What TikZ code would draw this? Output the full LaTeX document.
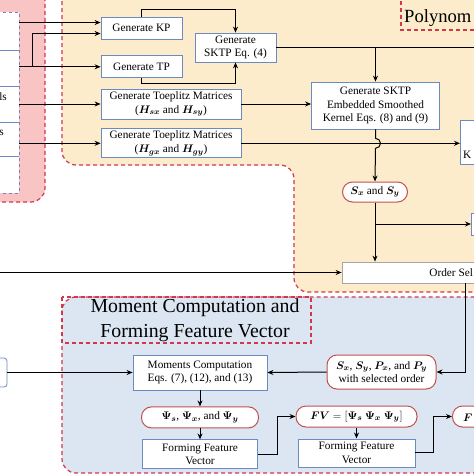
\documentclass[tikz,border=0pt]{standalone}
\usepackage{bm}
\usepackage{fontspec}
\setmainfont{Liberation Serif}
\usepackage{tikz}
\usetikzlibrary{positioning,arrows.meta,calc}
\definecolor{cBox}{HTML}{6A8AC0}
\definecolor{cRed}{HTML}{D0384E}
\definecolor{cPill}{HTML}{C0504D}
\definecolor{cPink}{HTML}{F8C4C4}
\definecolor{cYellow}{HTML}{FDECCB}
\definecolor{cBlue}{HTML}{DCE6F2}
\definecolor{cInput}{HTML}{8080B0}
\tikzset{
  node-box/.style={draw=cBox,line width=0.8pt,fill=white,align=center,
    inner sep=1.5pt,font=\fontsize{11.3}{13.5}\selectfont},
  node-pill/.style={draw=cPill,line width=1pt,fill=white,rounded corners=10pt,
    align=center,inner sep=1.5pt,font=\fontsize{11.3}{13.5}\selectfont},
  node-text/.style={inner sep=0pt,font=\fontsize{11.3}{13.5}\selectfont},
  node-title/.style={inner sep=0pt,align=center,font=\fontsize{19.8}{25}\selectfont},
  region/.style={draw=cRed,line width=1.2pt,dash pattern=on 4pt off 3pt,
    rounded corners=14pt},
  title-line/.style={draw=cRed,line width=1.2pt,dash pattern=on 4pt off 3pt},
  arrow/.style={-{Stealth[length=6pt,width=5pt]},line width=1pt},
  line/.style={line width=1pt},
}

\begin{document}
\begin{tikzpicture}[x=1pt,y=-1pt]
  \useasboundingbox (0,0) rectangle (474,474);
  \clip (0,0) rectangle (474,474);
  % regions
  \draw[region,fill=cPink] (-20,-20) rectangle (45,202);
  \draw[region,fill=cYellow] (62,-20) -- (62,165) -- (294,165) -- (294,292)
    -- (490,292) -- (490,-20) -- cycle;
  \draw[region,fill=cBlue] (62,297) rectangle (490,473);
  \draw[title-line] (401,-20) rectangle (500,30);
  \node[node-title,anchor=base west,font=\fontsize{18.6}{25}\selectfont] (ptitle) at (404,22) {Polynom};
  \draw[title-line] (62,297) rectangle (311,343);
  \node[node-title] (mtitle) at (195,320.5) {Moment Computation and\\Forming Feature Vector};

  % inputs
  \node[draw=cInput,dashed,line width=0.8pt,fill=white,minimum width=40pt,
    minimum height=181pt] (inp) at (-1,102.5) {};
  \foreach \y in {50,86,122,156}
    \draw[cBox,line width=0.8pt] (inp.west |- 0,\y) -- (inp.east |- 0,\y);
  \node[node-text,anchor=base east] (t3) at (7,100) {ls};
  \node[node-text,anchor=base east] (t4) at (4,135) {s};

  % polynomials
  \node[node-box,minimum width=81pt,minimum height=22pt] (kp) at (141.5,28) {Generate KP};
  \node[node-box,minimum width=81pt,minimum height=22pt,below=16pt of kp] (tp) {Generate TP};
  \node[node-box,minimum width=81pt,minimum height=29pt] (sktp) at (235.5,47.5) {Generate\\SKTP Eq. (4)};
  \node[node-box,minimum width=140pt,minimum height=30pt] (hs) at (171,104)
    {Generate Toeplitz Matrices\\($\bm{H_{sx}}$ and $\bm{H_{sy}}$)};
  \node[node-box,minimum width=140pt,minimum height=29pt,below=9pt of hs] (hg)
    {Generate Toeplitz Matrices\\($\bm{H_{gx}}$ and $\bm{H_{gy}}$)};
  \node[node-box,minimum width=128pt,minimum height=47pt] (smk) at (375.5,105.5)
    {Generate SKTP\\Embedded Smoothed\\Kernel Eqs. (8) and (9)};
  \node[node-box,anchor=north west,minimum width=60pt,minimum height=44pt] (kbox) at (460,120) {};
  \node[node-text,anchor=base west] (kt) at (463,158) {K};
  \node[node-pill,minimum width=65pt,minimum height=20pt] (sxy) at (375,192)
    {$\bm{S_x}$ and $\bm{S_y}$};
  \node[node-box,anchor=west,minimum width=30pt,minimum height=22pt] (sbox) at (471,224) {};
  \node[node-box,draw=gray!70,minimum width=246pt,minimum height=21pt] (ord) at (465,272.5)
    {Order Sel\phantom{ection}};

  % moments
  \node[node-box,rounded corners=3pt,minimum width=27pt,minimum height=29pt] (lbox) at (-6.5,372.5) {};
  \node[node-box,minimum width=134pt,minimum height=35pt] (mc) at (200,372.5)
    {Moments Computation\\Eqs. (7), (12), and (13)};
  \node[node-pill,minimum width=109pt,minimum height=34pt] (ps) at (381.5,372)
    {$\bm{S_x}$, $\bm{S_y}$, $\bm{P_x}$, and $\bm{P_y}$\\with selected order};
  \node[node-pill,minimum width=117pt,minimum height=21pt,below=16pt of mc] (psi)
    {$\bm{\Psi_s}$, $\bm{\Psi_x}$, and $\bm{\Psi_y}$};
  \node[node-box,minimum width=115pt,minimum height=29pt,below=11pt of psi] (ffv1)
    {Forming Feature\\Vector};
  \node[node-pill,minimum width=121pt,minimum height=21pt] (fv) at (356.5,416.5)
    {$\bm{FV}=\big[\bm{\Psi_s}\ \bm{\Psi_x}\ \bm{\Psi_y}\big]$};
  \node[node-box,minimum width=117pt,minimum height=28pt,below=11pt of fv] (ffv2)
    {Forming Feature\\Vector};
  \node[node-pill,anchor=west,minimum width=50pt,minimum height=21pt] (fv2) at (452,416.5) {};
  \node[node-text,anchor=base west] (ft) at (463,421) {$\bm{F}$};

  \coordinate (kpin1) at ([yshift=5.5pt]kp.west);
  \coordinate (kpin2) at ([yshift=-5.5pt]kp.west);
  \coordinate (br) at ($(inp.east |- tp.west)+(13,0)$);
  \coordinate (edge1) at (480,47.5);
  \coordinate (edge2) at (-5,272.5);

  \draw[arrow] (inp.east |- kpin1) -- (kpin1);
  \draw[arrow] (inp.east |- tp.west) -- (tp.west);
  \draw[arrow] (br) |- (kpin2);
  \draw[arrow] (inp.east |- hs.west) -- (hs.west);
  \draw[arrow] (inp.east |- hg.west) -- (hg.west);
  \draw[arrow] (kp.north) -- ++(0,-7) -| (sktp.north);
  \draw[arrow] (tp.south) -- ++(0,5) -| (sktp.south);
  \draw[line]  (sktp.east) -- (edge1);
  \draw[arrow] (smk.north |- sktp.east) -- (smk.north);
  \draw[arrow] (hs.east) -- (hs.east -| smk.west);
  \draw[arrow] (hg.east) -- (hg.east -| kbox.west);
  \draw[arrow] (smk.south) -- ($(smk.south |- hg.east)+(0,-5)$)
    arc[start angle=90,end angle=-90,radius=5pt] -- (sxy.north);
  \draw[arrow] (sxy.south) -- (sxy.south |- ord.north);
  \draw[arrow] (sxy.south |- sbox.west) -- (sbox.west);
  \draw[arrow] (edge2) -- (edge2 -| ord.west);
  \draw[arrow] (ord.south) |- (ps.east);
  \draw[arrow] (ps.west) -- (mc.east);
  \draw[arrow] (lbox.east) -- (lbox.east -| mc.west);
  \draw[arrow] (mc.south) -- (psi.north);
  \draw[arrow] (psi.south) -- (ffv1.north);
  \draw[arrow] (ffv1.east) -- ++(20,0) |- (fv.west);
  \draw[arrow] (fv.south) -- (ffv2.north);
  \draw[arrow] (ffv2.east) -- ++(18,0) |- (fv2.west);
\end{tikzpicture}
\end{document}
